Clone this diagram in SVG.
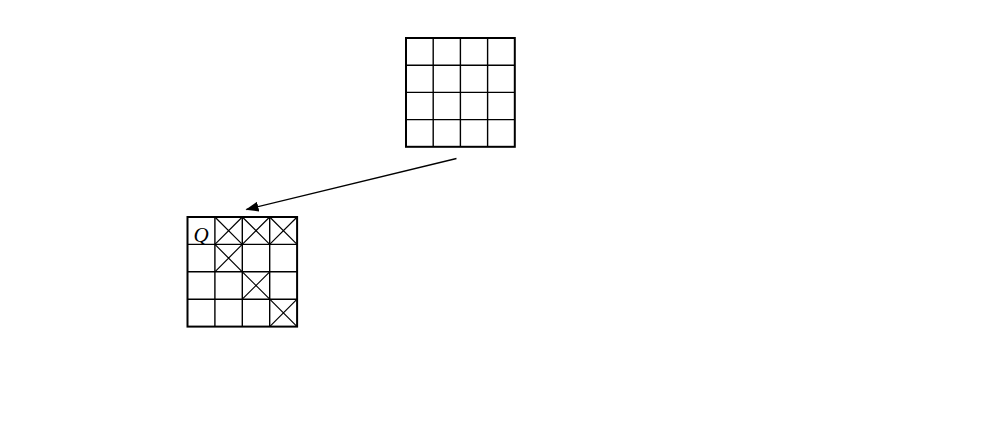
<svg xmlns="http://www.w3.org/2000/svg" width="984" height="430" viewBox="0 0 984 430">
<style>
.outer{fill:none;stroke:#000;stroke-width:2}
.inner{stroke:#000;stroke-width:1.4;fill:none}
.x{stroke:#000;stroke-width:1.2;fill:none}
.conn{stroke:#000;stroke-width:1.3;fill:none}
.q{font-family:"Liberation Serif",serif;font-style:italic;font-size:21px;fill:#000}
</style>
<defs>
<marker id="ah" markerWidth="13" markerHeight="10" refX="12" refY="5" orient="auto" markerUnits="userSpaceOnUse">
<path d="M0,0 L13,5 L0,10 Z" fill="#000"/>
</marker>
</defs>
<rect width="984" height="430" fill="#fff"/>
<g id="grid-top">
<path class="inner" d="M433.2,38V146.8M460.4,38V146.8M487.6,38V146.8M406,65.2H514.8M406,92.4H514.8M406,119.6H514.8"/>
<rect class="outer" x="406" y="38" width="108.8" height="108.8"/>
</g>
<g id="grid-bottom">
<path class="inner" d="M214.9,217V326.6M242.3,217V326.6M269.7,217V326.6M187.5,244.4H297.1M187.5,271.8H297.1M187.5,299.2H297.1"/>
<path class="x" d="M214.9,217L242.3,244.4M242.3,217L214.9,244.4
M242.3,217L269.7,244.4M269.7,217L242.3,244.4
M269.7,217L297.1,244.4M297.1,217L269.7,244.4
M214.9,244.4L242.3,271.8M242.3,244.4L214.9,271.8
M242.3,271.8L269.7,299.2M269.7,271.8L242.3,299.2
M269.7,299.2L297.1,326.6M297.1,299.2L269.7,326.6"/>
<rect class="outer" x="187.5" y="217" width="109.6" height="109.6"/>
<text class="q" x="193.5" y="242">Q</text>
</g>
<g id="connectors">
<line class="conn" x1="456.5" y1="158.5" x2="246.5" y2="209.5" marker-end="url(#ah)"/>
</g>
</svg>
